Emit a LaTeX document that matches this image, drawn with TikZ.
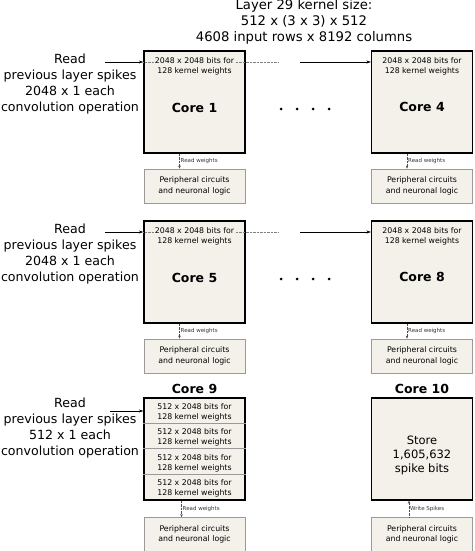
\documentclass[tikz,border=0pt]{standalone}
\usepackage{fontspec}
\setmainfont{DejaVu Sans}
\usetikzlibrary{arrows.meta,positioning,calc}
\definecolor{corefill}{HTML}{F4F1EB}
\definecolor{periline}{HTML}{9A9A9A}

\begin{document}
\begin{tikzpicture}[x=1pt,y=-1pt,>={Stealth[length=4.5pt,width=3pt]},
   core/.style={draw,line width=1.4pt,fill=corefill,minimum width=101pt,minimum height=102pt,inner sep=0pt},
   peri/.style={draw=periline,line width=0.8pt,fill=corefill,align=center,minimum width=101pt,minimum height=34pt,inner sep=0pt,font=\fontsize{7.8}{10.5}\selectfont},
   bits/.style={align=center,font=\fontsize{7.8}{10}\selectfont,inner sep=0.5pt,fill=corefill},
   lbl/.style={font=\fontsize{12.5}{15}\selectfont\bfseries},
   side/.style={align=center,font=\fontsize{12.6}{16}\selectfont},
   tiny/.style={font=\fontsize{5.5}{6}\selectfont,anchor=west,inner sep=1pt,text=black!80},
   rw/.style={->,densely dotted,>={Stealth[length=3pt,width=2.5pt]},black!70}]

  \useasboundingbox (0,0) rectangle (474,551);

  % ---- title ----
  \node[side,font=\fontsize{13.2}{16}\selectfont] (title) at (304,22) {Layer 29 kernel size:\\512 x (3 x 3) x 512\\4608 input rows x 8192 columns};

  % ---- rows with four cores ----
  \foreach \a/\b/\y in {1/4/0,5/8/170}{
    \node[core] (core\a) at (194.5,102+\y) {};
    \node[core] (core\b) at (422,102+\y) {};
    \node[side] (src\a) at (70,84+\y) {Read\\previous layer spikes\\2048 x 1 each\\convolution operation};
    \coordinate (in\a) at (105,62+\y);
    \coordinate (gap\a) at (278,62+\y);
    \coordinate (go\a) at (300,62+\y);
    \draw[->] (in\a) -- (in\a -| core\a.west);
    \draw[densely dotted,black!50] (in\a -| core\a.west) -- (gap\a);
    \draw[->] (go\a) -- (go\a -| core\b.west);
    \node[bits] (w\a) at (194.5,66+\y) {2048 x 2048 bits for\\128 kernel weights};
    \node[bits] (w\b) at (422,66+\y) {2048 x 2048 bits for\\128 kernel weights};
    \node[lbl] (name\a) at (194.5,108+\y) {Core \a};
    \node[lbl] (name\b) at (422,107+\y) {Core \b};
    \foreach \d in {0,1,2,3}{\fill (281+16*\d,109+\y) circle (1.5pt);}
    \node[peri] (peri\a) at (194.5,186+\y) {Peripheral circuits\\and neuronal logic};
    \node[peri] (peri\b) at (422,186+\y) {Peripheral circuits\\and neuronal logic};
    \foreach \n in {\a,\b}{
      \coordinate (rd\n) at ($(core\n.south)+(-15,0)$);
      \draw[rw] (rd\n) -- (rd\n |- peri\n.north) node[tiny,midway,right]{Read weights};
    }
  }

  % ---- last row: core 9 and core 10 ----
  \node[core] (core9) at (194.5,449) {};
  \node[core] (core10) at (422,449) {};
  \node[lbl] (name9) at (194.5,389) {Core 9};
  \node[lbl] (name10) at (422,389) {Core 10};
  \foreach \k in {1,2,3}{
    \draw[black!40] ($(core9.north west)+(0,25.5*\k)$) -- ($(core9.north east)+(0,25.5*\k)$);
  }
  \foreach \k in {0,...,3}{
    \node[bits,fill=none] (part\k) at (194.5,412+25.5*\k) {512 x 2048 bits for\\128 kernel weights};
  }
  \node[align=center,font=\fontsize{11.5}{14}\selectfont] (store) at (422,455) {Store\\1,605,632\\spike bits};
  \node[side] (src9) at (70,428) {Read\\previous layer spikes\\512 x 1 each\\convolution operation};
  \coordinate (in9) at (110,411);
  \draw[->] (in9) -- (in9 -| core9.west);
  \node[peri] (peri9) at (194.5,534.5) {Peripheral circuits\\and neuronal logic};
  \node[peri] (peri10) at (422,534.5) {Peripheral circuits\\and neuronal logic};
  \coordinate (rd9) at ($(core9.south)+(-13,0)$);
  \draw[rw] (rd9) -- (rd9 |- peri9.north) node[tiny,midway,right]{Read weights};
  \coordinate (wr10) at ($(peri10.north)+(-13,0)$);
  \draw[rw] (wr10) -- (wr10 |- core10.south) node[tiny,midway,right]{Write Spikes};
\end{tikzpicture}
\end{document}
